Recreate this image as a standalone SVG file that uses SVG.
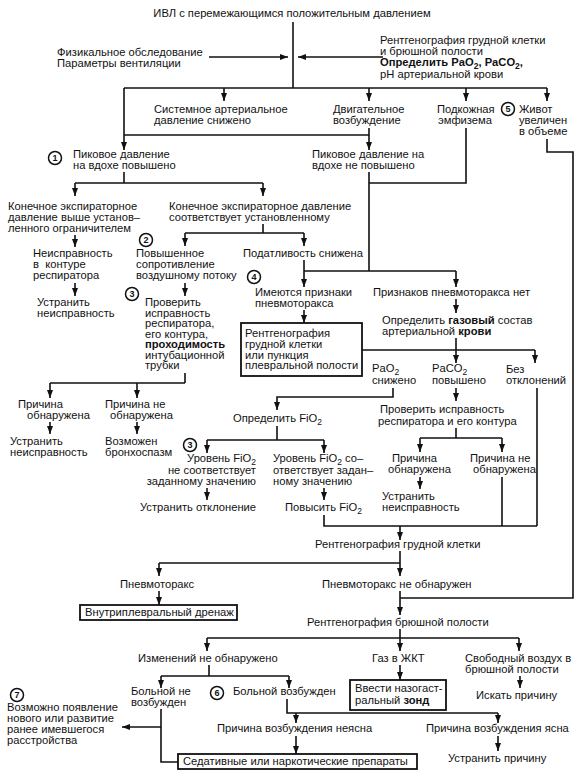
<svg xmlns="http://www.w3.org/2000/svg" width="581" height="779" viewBox="0 0 581 779">
<defs>
<style>
text{font-family:"Liberation Sans",Arial,sans-serif;font-size:11.2px;fill:#111}
.b{font-weight:bold}
.s{font-size:8.5px}
.c{fill:none;stroke:#111;stroke-width:1.6}
.box{fill:#fff;stroke:#111;stroke-width:1.8}
.n{fill:#fff;stroke:#111;stroke-width:1.5}
.nt{font-size:9px;font-weight:bold;text-anchor:middle}
</style>
<marker id="ah" markerWidth="8" markerHeight="6" refX="8" refY="3" orient="auto" markerUnits="userSpaceOnUse"><path d="M0,0 L8,3 L0,6 Z" fill="#111"/></marker>
</defs>
<rect width="581" height="779" fill="#fff"/>
<g id="connectors">
<path class="c" d="M293,22 V88"/>
<path class="c" d="M209,57 H288" marker-end="url(#ah)"/>
<path class="c" d="M383,57 H298" marker-end="url(#ah)"/>
<path class="c" d="M124,88 H547"/>
<path class="c" d="M124,88 V150" marker-end="url(#ah)"/>
<path class="c" d="M224,88 V101" marker-end="url(#ah)"/>
<path class="c" d="M369,88 V101" marker-end="url(#ah)"/>
<path class="c" d="M466,88 V101" marker-end="url(#ah)"/>
<path class="c" d="M547,88 V101" marker-end="url(#ah)"/>
<path class="c" d="M124,135 H369"/>
<path class="c" d="M369,128 V150" marker-end="url(#ah)"/>
<path class="c" d="M466,128 V183 H369"/>
<path class="c" d="M547,139 V152 H573 V598 H400"/>
<path class="c" d="M124,172 V183 M75,183 H263"/>
<path class="c" d="M75,183 V196" marker-end="url(#ah)"/>
<path class="c" d="M263,183 V196" marker-end="url(#ah)"/>
<path class="c" d="M263,224 V233 M185,233 H304"/>
<path class="c" d="M185,233 V246" marker-end="url(#ah)"/>
<path class="c" d="M304,233 V246" marker-end="url(#ah)"/>
<path class="c" d="M75,235 V247" marker-end="url(#ah)"/>
<path class="c" d="M75,283 V296" marker-end="url(#ah)"/>
<path class="c" d="M185,283 V296" marker-end="url(#ah)"/>
<path class="c" d="M304,260 V287" marker-end="url(#ah)"/>
<path class="c" d="M369,172 V271 M304,271 H456"/>
<path class="c" d="M456,271 V287" marker-end="url(#ah)"/>
<path class="c" d="M304,310 V323" marker-end="url(#ah)"/>
<path class="c" d="M456,299 V313" marker-end="url(#ah)"/>
<path class="c" d="M456,338 V363" marker-end="url(#ah)"/>
<path class="c" d="M300,350 H535"/>
<path class="c" d="M300,350 V363" marker-end="url(#ah)"/>
<path class="c" d="M535,350 V363" marker-end="url(#ah)"/>
<path class="c" d="M393,388 V397 H277 V410" marker-end="url(#ah)"/>
<path class="c" d="M456,388 V401" marker-end="url(#ah)"/>
<path class="c" d="M456,428 V438 M420,438 H502"/>
<path class="c" d="M420,438 V452" marker-end="url(#ah)"/>
<path class="c" d="M502,438 V452" marker-end="url(#ah)"/>
<path class="c" d="M420,477 V489" marker-end="url(#ah)"/>
<path class="c" d="M502,477 V526"/>
<path class="c" d="M537,388 V526"/>
<path class="c" d="M185,373 V383 M50,383 H185"/>
<path class="c" d="M50,383 V398" marker-end="url(#ah)"/>
<path class="c" d="M137,383 V398" marker-end="url(#ah)"/>
<path class="c" d="M50,422 V434" marker-end="url(#ah)"/>
<path class="c" d="M137,422 V434" marker-end="url(#ah)"/>
<path class="c" d="M277,426 V440 M207,440 H324"/>
<path class="c" d="M207,440 V453" marker-end="url(#ah)"/>
<path class="c" d="M324,440 V453" marker-end="url(#ah)"/>
<path class="c" d="M207,488 V500" marker-end="url(#ah)"/>
<path class="c" d="M324,488 V500" marker-end="url(#ah)"/>
<path class="c" d="M324,515 V526 H537"/>
<path class="c" d="M400,526 V540" marker-end="url(#ah)"/>
<path class="c" d="M400,551 V576" marker-end="url(#ah)"/>
<path class="c" d="M159,563 H400"/>
<path class="c" d="M159,563 V576" marker-end="url(#ah)"/>
<path class="c" d="M159,591 V605" marker-end="url(#ah)"/>
<path class="c" d="M400,591 V615" marker-end="url(#ah)"/>
<path class="c" d="M400,629 V638 M207,638 H519"/>
<path class="c" d="M207,638 V651" marker-end="url(#ah)"/>
<path class="c" d="M400,638 V651" marker-end="url(#ah)"/>
<path class="c" d="M519,638 V651" marker-end="url(#ah)"/>
<path class="c" d="M209,665 V676 M161,676 H289"/>
<path class="c" d="M161,676 V688" marker-end="url(#ah)"/>
<path class="c" d="M289,676 V688" marker-end="url(#ah)"/>
<path class="c" d="M400,665 V680" marker-end="url(#ah)"/>
<path class="c" d="M520,676 V688" marker-end="url(#ah)"/>
<path class="c" d="M161,709 V762 H178"/>
<path class="c" d="M161,727 H122" marker-end="url(#ah)"/>
<path class="c" d="M287,699 V713 H498"/>
<path class="c" d="M296,713 V723" marker-end="url(#ah)"/>
<path class="c" d="M498,713 V723" marker-end="url(#ah)"/>
<path class="c" d="M296,736 V754" marker-end="url(#ah)"/>
<path class="c" d="M498,736 V751" marker-end="url(#ah)"/>
</g>
<g id="n_title"><text x="292" y="17" text-anchor="middle">ИВЛ с перемежающимся положительным давлением</text></g>
<g id="n_phys"><text x="57" y="56">Физикальное обследование</text><text x="57" y="67">Параметры вентиляции</text></g>
<g id="n_xray"><text x="380" y="44">Рентгенография грудной клетки</text><text x="380" y="55">и брюшной полости</text><text x="380" y="66" class="b">Определить PaO<tspan class="s" dy="2.5">2</tspan><tspan dy="-2.5">, PaCO</tspan><tspan class="s" dy="2.5">2</tspan><tspan dy="-2.5">,</tspan></text><text x="380" y="78">pH артериальной крови</text></g>
<g id="n_bp"><text x="154" y="113">Системное артериальное</text><text x="154" y="124">давление снижено</text></g>
<g id="n_agit"><text x="333" y="113">Двигательное</text><text x="333" y="124">возбуждение</text></g>
<g id="n_emph"><text x="437" y="113">Подкожная</text><text x="438" y="124">эмфизема</text></g>
<g id="n_abd"><circle class="n" cx="508" cy="109" r="6.5"/><text class="nt" x="508" y="112.2">5</text><text x="519" y="113">Живот</text><text x="519" y="124">увеличен</text><text x="519" y="135">в объеме</text></g>
<g id="n_peak_hi"><circle class="n" cx="55" cy="158" r="6.5"/><text class="nt" x="55" y="161.2">1</text><text x="73" y="158">Пиковое давление</text><text x="73" y="169">на вдохе повышено</text></g>
<g id="n_peak_nh"><text x="312" y="158">Пиковое давление на</text><text x="312" y="169">вдохе не повышено</text></g>
<g id="n_peep_hi"><text x="8" y="210">Конечное экспираторное</text><text x="8" y="221">давление выше установ–</text><text x="8" y="232">ленного ограничителем</text></g>
<g id="n_peep_ok"><text x="169" y="210">Конечное экспираторное давление</text><text x="169" y="221">соответствует установленному</text></g>
<g id="n_circuit"><text x="33" y="257">Неисправность</text><text x="33" y="268" xml:space="preserve">в  контуре</text><text x="33" y="279">респиратора</text></g>
<g id="n_resist"><circle class="n" cx="146" cy="240" r="6.5"/><text class="nt" x="146" y="243.2">2</text><text x="136" y="257">Повышенное</text><text x="136" y="268">сопротивление</text><text x="136" y="279">воздушному потоку</text></g>
<g id="n_compl"><text x="243" y="257">Податливость снижена</text></g>
<g id="n_fix1"><text x="37" y="306">Устранить</text><text x="37" y="317">неисправность</text></g>
<g id="n_check"><circle class="n" cx="132" cy="294" r="6.5"/><text class="nt" x="132" y="297.2">3</text><text x="145" y="306">Проверить</text><text x="145" y="316.5">исправность</text><text x="145" y="327">респиратора,</text><text x="145" y="337.5">его контура,</text><text x="145" y="348" class="b">проходимость</text><text x="145" y="358.5">интубационной</text><text x="145" y="369">трубки</text></g>
<g id="n_ptx_yes"><circle class="n" cx="254" cy="277" r="6.5"/><text class="nt" x="254" y="280.2">4</text><text x="255" y="296">Имеются признаки</text><text x="255" y="307">пневмоторакса</text></g>
<g id="n_ptx_no"><text x="373" y="296">Признаков пневмоторакса нет</text></g>
<g id="n_box1"><rect class="box" x="241" y="323" width="121" height="53"/><text x="245" y="337">Рентгенография</text><text x="245" y="348">грудной клетки</text><text x="245" y="358.5">или пункция</text><text x="245" y="369">плевральной полости</text></g>
<g id="n_abg"><text x="382" y="324">Определить <tspan class="b">газовый</tspan> состав</text><text x="382" y="335">артериальной <tspan class="b">крови</tspan></text></g>
<g id="n_pao2"><text x="372" y="372">PaO<tspan class="s" dy="2.5">2</tspan></text><text x="372" y="384">снижено</text></g>
<g id="n_paco2"><text x="432" y="372">PaCO<tspan class="s" dy="2.5">2</tspan></text><text x="432" y="384">повышено</text></g>
<g id="n_norm"><text x="506" y="373">Без</text><text x="506" y="384">отклонений</text></g>
<g id="n_cause1"><text x="18" y="408">Причина</text><text x="27" y="419">обнаружена</text></g>
<g id="n_nocause1"><text x="105" y="408">Причина не</text><text x="110" y="419">обнаружена</text></g>
<g id="n_fix2"><text x="10" y="445">Устранить</text><text x="10" y="456">неисправность</text></g>
<g id="n_bronch"><text x="105" y="445">Возможен</text><text x="105" y="456">бронхоспазм</text></g>
<g id="n_fio2"><text x="233" y="422">Определить FiO<tspan class="s" dy="2.5">2</tspan></text></g>
<g id="n_checkvent"><text x="380" y="413">Проверить исправность</text><text x="378" y="425">респиратора и его контура</text></g>
<g id="n_fio2_bad"><circle class="n" cx="190" cy="445" r="6.5"/><text class="nt" x="190" y="448.2">3</text><text x="256" y="462" text-anchor="end">Уровень FiO<tspan class="s" dy="2.5">2</tspan></text><text x="256" y="474" text-anchor="end">не соответствует</text><text x="256" y="484.5" text-anchor="end">заданному значению</text></g>
<g id="n_fio2_ok"><text x="273" y="462">Уровень FiO<tspan class="s" dy="2.5">2</tspan><tspan dy="-2.5"> со–</tspan></text><text x="273" y="474">ответствует задан–</text><text x="273" y="484.5">ному значению</text></g>
<g id="n_cause2"><text x="392" y="462">Причина</text><text x="388" y="473">обнаружена</text></g>
<g id="n_nocause2"><text x="470" y="462">Причина не</text><text x="473" y="473">обнаружена</text></g>
<g id="n_fixdev"><text x="140" y="511">Устранить отклонение</text></g>
<g id="n_incfio2"><text x="285" y="511">Повысить FiO<tspan class="s" dy="2.5">2</tspan></text></g>
<g id="n_fix3"><text x="382" y="500">Устранить</text><text x="382" y="511">неисправность</text></g>
<g id="n_cxr"><text x="315" y="548">Рентгенография грудной клетки</text></g>
<g id="n_ptx"><text x="120" y="588">Пневмоторакс</text></g>
<g id="n_noptx"><text x="322" y="588">Пневмоторакс не обнаружен</text></g>
<g id="n_drain"><rect class="box" x="80" y="605" width="157" height="15"/><text x="85" y="616">Внутриплевральный дренаж</text></g>
<g id="n_axr"><text x="307" y="626">Рентгенография брюшной полости</text></g>
<g id="n_nochange"><text x="138" y="662">Изменений не обнаружено</text></g>
<g id="n_gas"><text x="372" y="662">Газ в ЖКТ</text></g>
<g id="n_free"><text x="465" y="662">Свободный воздух в</text><text x="465" y="673">брюшной полости</text></g>
<g id="n_ngt"><rect class="box" x="350" y="680" width="96" height="30"/><text x="355" y="692">Ввести назогаст-</text><text x="355" y="704">ральный <tspan class="b">зонд</tspan></text></g>
<g id="n_search"><text x="476" y="699">Искать причину</text></g>
<g id="n_calm"><text x="131" y="695">Больной не</text><text x="131" y="706">возбужден</text></g>
<g id="n_agit2"><circle class="n" cx="217" cy="693" r="6.5"/><text class="nt" x="217" y="696.2">6</text><text x="233" y="695">Больной возбужден</text></g>
<g id="n_new"><circle class="n" cx="17" cy="695" r="6.5"/><text class="nt" x="17" y="698.2">7</text><text x="7" y="711">Возможно появление</text><text x="7" y="722">нового или развитие</text><text x="7" y="733">ранее имевшегося</text><text x="7" y="744">расстройства</text></g>
<g id="n_unclear"><text x="217" y="732">Причина возбуждения неясна</text></g>
<g id="n_clear"><text x="426" y="732">Причина возбуждения ясна</text></g>
<g id="n_sed"><rect class="box" x="178" y="754" width="239" height="15"/><text x="183" y="765">Седативные или наркотические препараты</text></g>
<g id="n_fix4"><text x="448" y="762">Устранить причину</text></g>
</svg>
